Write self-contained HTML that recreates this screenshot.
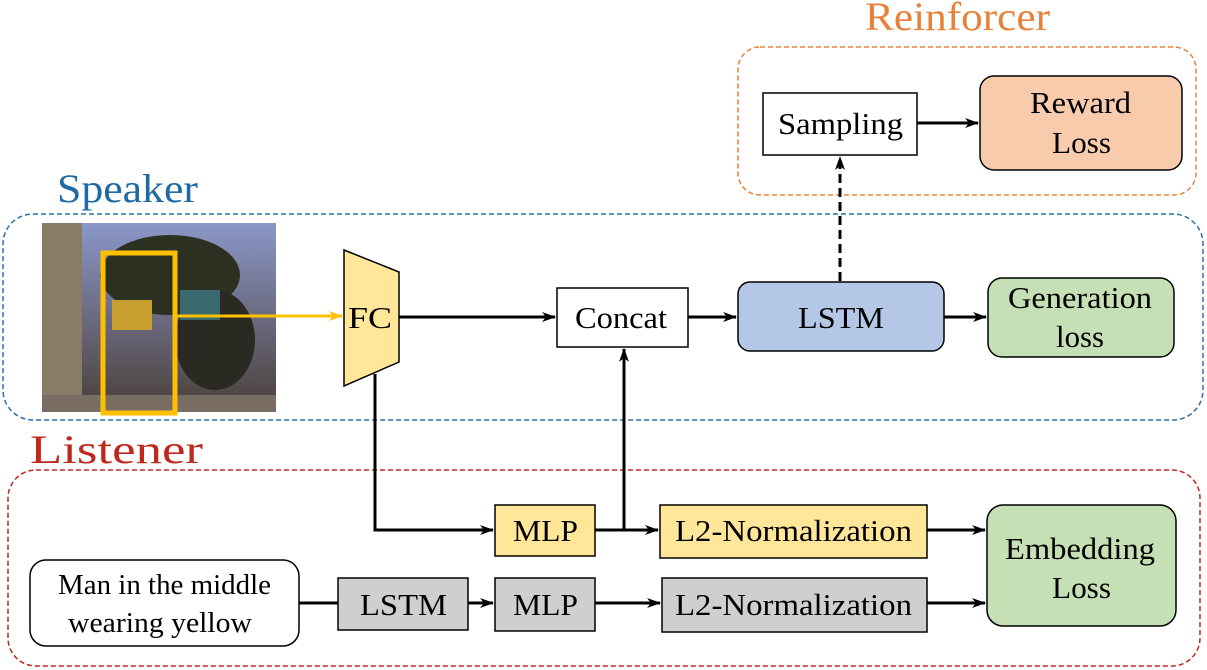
<!DOCTYPE html>
<html><head><meta charset="utf-8"><style>
html,body{margin:0;padding:0;background:#fff;}
svg{display:block;font-family:"Liberation Serif",serif;}
</style></head><body>
<svg width="1207" height="670" viewBox="0 0 1207 670" xmlns="http://www.w3.org/2000/svg">
<defs>
<marker id="ah" markerWidth="14" markerHeight="12" refX="13" refY="6" orient="auto" markerUnits="userSpaceOnUse"><path d="M0,1 L14,6 L0,11 L4,6 Z" fill="#000"/></marker>
<marker id="ay" markerWidth="14" markerHeight="12" refX="13" refY="6" orient="auto" markerUnits="userSpaceOnUse"><path d="M0,1 L14,6 L0,11 L4,6 Z" fill="#ffc000"/></marker>
<linearGradient id="sky" x1="0" y1="0" x2="0" y2="1"><stop offset="0" stop-color="#8a98c8"/><stop offset="0.5" stop-color="#6b6a80"/><stop offset="1" stop-color="#4a4038"/></linearGradient>
</defs>
<g font-size="31">
<!-- Reinforcer -->
<text x="865" y="30" font-size="40" fill="#e8823a" textLength="185" lengthAdjust="spacingAndGlyphs">Reinforcer</text>
<rect x="738" y="47" width="458" height="148" rx="22" fill="none" stroke="#e8823a" stroke-width="1.5" stroke-dasharray="5,3"/>
<rect x="763" y="93" width="154" height="62" fill="#fff" stroke="#000" stroke-width="1.5"/>
<text x="778" y="134" textLength="125" lengthAdjust="spacingAndGlyphs">Sampling</text>
<rect x="980" y="76" width="202" height="94" rx="14" fill="#f8cbad" stroke="#000" stroke-width="1.5"/>
<text x="1030" y="113" textLength="101" lengthAdjust="spacingAndGlyphs">Reward</text>
<text x="1052" y="153" textLength="59" lengthAdjust="spacingAndGlyphs">Loss</text>
<line x1="917" y1="123" x2="978" y2="123" stroke="#000" stroke-width="3" marker-end="url(#ah)"/>
<line x1="840" y1="281" x2="840" y2="157" stroke="#000" stroke-width="3" stroke-dasharray="9,5" marker-end="url(#ah)"/>
<!-- Speaker -->
<text x="57" y="202" font-size="40" fill="#1f6aa5" textLength="141" lengthAdjust="spacingAndGlyphs">Speaker</text>
<rect x="3" y="214" width="1200" height="206" rx="30" fill="none" stroke="#2e6da4" stroke-width="1.5" stroke-dasharray="5,3"/>
<rect x="42" y="223" width="234" height="189" fill="url(#sky)"/>
<rect x="42" y="223" width="40" height="189" fill="#8a7a68"/>
<ellipse cx="170" cy="275" rx="70" ry="40" fill="#2c3020"/>
<ellipse cx="215" cy="340" rx="40" ry="50" fill="#2a2a22"/>
<rect x="42" y="395" width="234" height="17" fill="#7a6e64"/>
<rect x="112" y="300" width="40" height="30" fill="#c8a030"/>
<rect x="180" y="290" width="40" height="30" fill="#3a6a70"/>
<rect x="103" y="253" width="72" height="160" fill="none" stroke="#ffc000" stroke-width="5"/>
<line x1="175" y1="316" x2="342" y2="316" stroke="#ffc000" stroke-width="3" marker-end="url(#ay)"/>
<polygon points="344,250 399,272 399,362 344,386" fill="#ffe699" stroke="#000" stroke-width="1.5"/>
<text x="348" y="328" textLength="44" lengthAdjust="spacingAndGlyphs">FC</text>
<line x1="399" y1="317" x2="555" y2="317" stroke="#000" stroke-width="3" marker-end="url(#ah)"/>
<rect x="557" y="288" width="131" height="59" fill="#fff" stroke="#000" stroke-width="1.5"/>
<text x="575" y="328" textLength="92" lengthAdjust="spacingAndGlyphs">Concat</text>
<line x1="688" y1="317" x2="736" y2="317" stroke="#000" stroke-width="3" marker-end="url(#ah)"/>
<rect x="738" y="282" width="206" height="69" rx="12" fill="#b4c7e7" stroke="#000" stroke-width="1.5"/>
<text x="798" y="328" textLength="86" lengthAdjust="spacingAndGlyphs">LSTM</text>
<line x1="944" y1="317" x2="986" y2="317" stroke="#000" stroke-width="3" marker-end="url(#ah)"/>
<rect x="988" y="278" width="186" height="79" rx="14" fill="#c5e0b4" stroke="#000" stroke-width="1.5"/>
<text x="1008" y="308" textLength="144" lengthAdjust="spacingAndGlyphs">Generation</text>
<text x="1056" y="347" textLength="48" lengthAdjust="spacingAndGlyphs">loss</text>
<!-- Listener -->
<text x="30" y="463" font-size="40" fill="#c0281c" textLength="173" lengthAdjust="spacingAndGlyphs">Listener</text>
<rect x="8" y="470" width="1192" height="196" rx="28" fill="none" stroke="#c0281c" stroke-width="1.5" stroke-dasharray="5,3"/>
<polyline points="375,374 375,530 493,530" fill="none" stroke="#000" stroke-width="3" marker-end="url(#ah)"/>
<rect x="495" y="505" width="100" height="51" fill="#ffe699" stroke="#000" stroke-width="1.5"/>
<text x="513" y="541" textLength="65" lengthAdjust="spacingAndGlyphs">MLP</text>
<line x1="595" y1="530" x2="658" y2="530" stroke="#000" stroke-width="3" marker-end="url(#ah)"/>
<line x1="624" y1="530" x2="624" y2="349" stroke="#000" stroke-width="3" marker-end="url(#ah)"/>
<rect x="660" y="505" width="267" height="53" fill="#ffe699" stroke="#000" stroke-width="1.5"/>
<text x="675" y="541" textLength="237" lengthAdjust="spacingAndGlyphs">L2-Normalization</text>
<line x1="927" y1="530" x2="985" y2="530" stroke="#000" stroke-width="3" marker-end="url(#ah)"/>
<rect x="987" y="505" width="189" height="121" rx="16" fill="#c5e0b4" stroke="#000" stroke-width="1.5"/>
<text x="1005" y="559" textLength="150" lengthAdjust="spacingAndGlyphs">Embedding</text>
<text x="1052" y="598" textLength="59" lengthAdjust="spacingAndGlyphs">Loss</text>
<rect x="30" y="560" width="269" height="86" rx="16" fill="#fff" stroke="#000" stroke-width="1.5"/>
<text x="58" y="594" font-size="28" textLength="213" lengthAdjust="spacingAndGlyphs">Man in the middle</text>
<text x="68" y="632" font-size="28" textLength="184" lengthAdjust="spacingAndGlyphs">wearing yellow</text>
<line x1="299" y1="603" x2="338" y2="603" stroke="#000" stroke-width="3"/>
<rect x="338" y="578" width="130" height="52" fill="#d0cece" stroke="#000" stroke-width="1.5"/>
<text x="360" y="615" textLength="87" lengthAdjust="spacingAndGlyphs">LSTM</text>
<line x1="468" y1="603" x2="493" y2="603" stroke="#000" stroke-width="3" marker-end="url(#ah)"/>
<rect x="495" y="578" width="100" height="53" fill="#d0cece" stroke="#000" stroke-width="1.5"/>
<text x="513" y="615" textLength="65" lengthAdjust="spacingAndGlyphs">MLP</text>
<line x1="595" y1="603" x2="660" y2="603" stroke="#000" stroke-width="3" marker-end="url(#ah)"/>
<rect x="662" y="578" width="265" height="54" fill="#d0cece" stroke="#000" stroke-width="1.5"/>
<text x="675" y="615" textLength="237" lengthAdjust="spacingAndGlyphs">L2-Normalization</text>
<line x1="927" y1="603" x2="985" y2="603" stroke="#000" stroke-width="3" marker-end="url(#ah)"/>
</g>
</svg>
</body></html>
